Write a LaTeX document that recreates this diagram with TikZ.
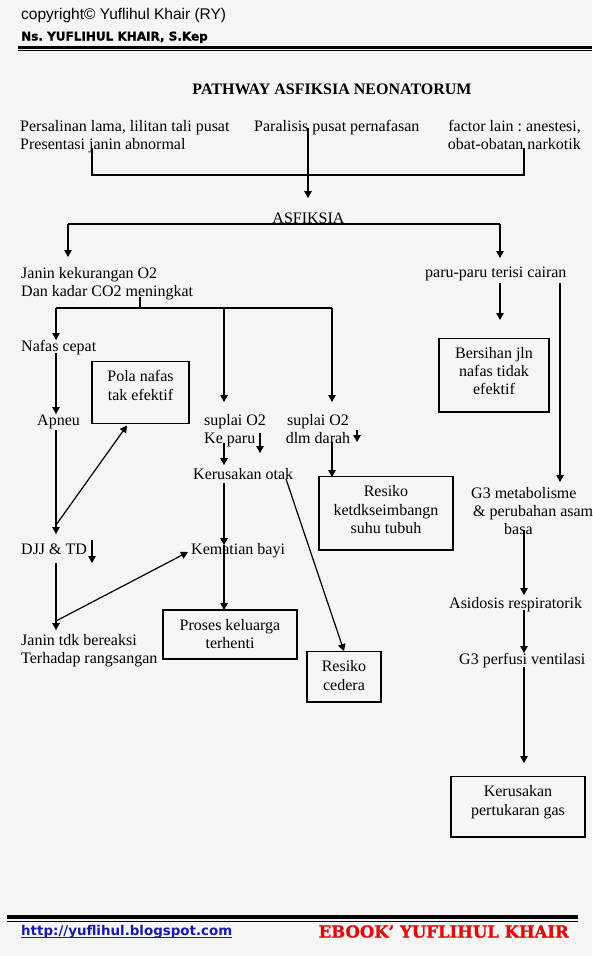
\documentclass[tikz,border=0pt]{standalone}
\usepackage{fontspec}
\setmainfont{Liberation Serif}
\newfontfamily\hdrfont{Liberation Sans}
\newfontfamily\heavysans{DejaVu Sans}
\newfontfamily\blacksans{DejaVu Sans}[BoldFeatures={FakeBold=1.2}]
\newfontfamily\heavyserif{DejaVu Serif}[BoldFeatures={FakeBold=1.5}]
\usetikzlibrary{arrows.meta,positioning,calc}
\definecolor{pagecolor}{RGB}{245,245,245}
\definecolor{urlcolor}{RGB}{25,25,170}
\definecolor{ebookcolor}{RGB}{225,10,10}
\newcommand{\bodyfont}{\fontsize{16}{18.3}\selectfont}
\newcommand{\baris}[2][l]{\begin{tabular}[t]{@{}#1@{}}#2\end{tabular}}

\begin{document}
\frenchspacing
\begin{tikzpicture}[
    x=1pt, y=-1pt,
    txt/.style={inner sep=0pt, anchor=base west, font=\bodyfont},
    box/.style={rectangle, draw, line width=1.2pt, inner sep=0pt, text height=20pt, anchor=base, font=\bodyfont},
    line/.style={line width=1.2pt},
    arrow/.style={line width=1.2pt, -{Triangle[length=7pt,width=7.5pt]}}
]

\fill[pagecolor] (0,0) rectangle (592,956);
\useasboundingbox (0,0) rectangle (592,956);

\node[anchor=base west, inner sep=0pt, font=\hdrfont\fontsize{15.5}{18}\selectfont] (copyr) at (21,19.5) {copyright© Yuflihul Khair (RY)};
\node[anchor=base west, inner sep=0pt, font=\blacksans\bfseries\fontsize{12}{14}\selectfont] (nama) at (21,40.5) {Ns. YUFLIHUL KHAIR, S.Kep};
\draw[line width=2.7pt] (18,47.3) -- (592,47.3);
\draw[line width=0.9pt] (18,50.3) -- (592,50.3);

\node[anchor=base, inner sep=0pt, font=\bodyfont\bfseries] (judul) at (332,94.3) {PATHWAY ASFIKSIA NEONATORUM};

\node[txt] (lama) at (20,131) {\baris{Persalinan lama, lilitan tali pusat\\Presentasi janin abnormal}};
\node[txt] (paral) at (254,131) {Paralisis pusat pernafasan};
\node[txt, anchor=base east] (lain) at (581,131) {\baris[r]{factor lain : anestesi,\\obat-obatan narkotik}};

\coordinate (lamaend) at (92,148);
\coordinate (lainend) at (524,148);
\coordinate (gabung) at (308,175);
\coordinate (paralend) at (308,128);
\draw[line] (lamaend) |- (gabung) -| (lainend);
\node[anchor=base, inner sep=0pt, font=\bodyfont] (asf) at (308.5,223) {ASFIKSIA};
\draw[arrow] (paralend) -- (308,198);

\coordinate (asfkiri) at (68,224);
\coordinate (asfkanan) at (500,224);
\draw[line] (asfkiri) -- (asfkanan);
\draw[arrow] (asfkiri) -- (68,257);
\draw[arrow] (asfkanan) -- (500,258);

\node[txt] (kurang) at (21,278) {\baris{Janin kekurangan O2\\Dan kadar CO2 meningkat}};
\coordinate (cabang) at (140,308);
\coordinate (cabkiri) at (56,308);
\coordinate (cabtengah) at (224,308);
\coordinate (cabkanan) at (332,308);
\draw[line] (140,297) -- (cabang);
\draw[line] (cabkiri) -- (cabkanan);
\draw[arrow] (cabkiri) -- (56,340);
\draw[arrow] (cabtengah) -- (224,402);
\draw[arrow] (cabkanan) -- (332,402);

\node[txt] (cepat) at (21,351.7) {Nafas cepat};
\node[txt] (apneu) at (37,425) {Apneu};
\node[box, minimum width=97pt, text depth=41.6pt] (pola) at (140.5,381.7) {\baris[c]{Pola nafas\\tak efektif}};
\node[txt] (djj) at (21,554) {DJJ \& TD};
\node[txt] (reaksi) at (21,645) {\baris{Janin tdk bereaksi\\Terhadap rangsangan}};
\draw[arrow] (56,353) -- (56,414);
\draw[arrow] (56,430) -- (56,534);
\draw[arrow] (56,525) -- (127,425.5);
\draw[arrow] (92,540) -- (92,563);
\draw[arrow] (56,563) -- (56,630);
\draw[arrow] (56,621) -- (188,552);

\node[txt] (keparu) at (204,425) {\baris{suplai O2\\Ke paru}};
\node[txt, anchor=base] (darah) at (318,425) {\baris[c]{suplai O2\\dlm darah}};
\draw[arrow] (260,433) -- (260,453);
\draw[arrow] (357,430) -- (357,442);
\node[txt] (otak) at (193,479.3) {Kerusakan otak};
\draw[arrow] (224,443) -- (224,465);
\node[box, minimum width=134pt, text depth=53.3pt] (suhu) at (386,496.7) {\baris[c]{Resiko\\ketdkseimbangn\\suhu tubuh}};
\draw[arrow] (332,442) -- (332,477);
\node[txt] (mati) at (191,554) {Kematian bayi};
\draw[arrow] (224,483) -- (224,545);
\node[box, minimum width=134pt, text depth=29pt] (proses) at (230,630) {\baris[c]{Proses keluarga\\terhenti}};
\draw[arrow] (224,545) -- (224,610);
\node[box, minimum width=74pt, text depth=30.3pt] (cedera) at (344,671.7) {\baris[c]{Resiko\\cedera}};
\draw[arrow] (286,479) -- (cedera.north);

\node[txt] (cairan) at (425,277.3) {paru-paru terisi cairan};
\draw[arrow] (500,283) -- (500,320);
\node[box, minimum width=110pt, text depth=53.7pt] (bersih) at (494,358.3) {\baris[c]{Bersihan jln\\nafas tidak\\efektif}};
\draw[arrow] (560,283) -- (560,482);
\node[txt] (metab) at (471,498.3) {\baris{G3 metabolisme\\\hspace*{2pt}\& perubahan asam\\\hspace*{33pt}basa}};
\draw[arrow] (524,530) -- (524,595);
\node[txt] (asidosis) at (449,608.3) {Asidosis respiratorik};
\draw[arrow] (524,610) -- (524,653);
\node[txt] (perfusi) at (459,664) {G3 perfusi ventilasi};
\draw[arrow] (524,667) -- (524,763);
\node[box, minimum width=134pt, text depth=40.3pt] (gas) at (518,796.7) {\baris[c]{Kerusakan\\pertukaran gas}};

\draw[line width=3.5pt] (7,917) -- (578,917);
\draw[line width=1pt] (7,921.5) -- (578,921.5);
\node[anchor=base west, inner sep=0pt, font=\heavysans\bfseries\fontsize{13.4}{16}\selectfont, text=urlcolor] (url) at (21,935.5) {http://yuflihul.blogspot.com};
\draw[urlcolor, line width=1pt] ([yshift=-2pt]url.base west) -- ([yshift=-2pt]url.base east);
\node[anchor=base east, inner sep=0pt, font=\heavyserif\bfseries\fontsize{16.5}{18}\selectfont, text=ebookcolor] (ebook) at (569,937.5) {EBOOK’ YUFLIHUL KHAIR};

\end{tikzpicture}
\end{document}
